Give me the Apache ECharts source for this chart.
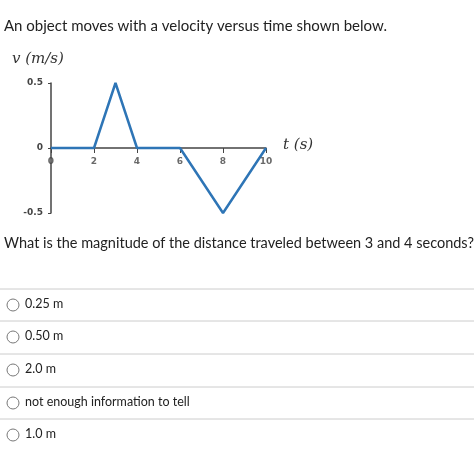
<!DOCTYPE html><html><head><meta charset="utf-8"><script src="https://cdn.jsdelivr.net/npm/echarts@6/dist/echarts.min.js"></script>
<style>html,body{margin:0;background:#fff}#c{width:474px;height:460px}</style></head><body><div id="c"></div><script>
const times=[0,2,3,4,6,8,10];
const velocity=[0,0,0.5,0,0,-0.5,0];
const xTicks=[0,2,4,6,8,10];
const yTicks=[-0.5,0,0.5];
const question='An object moves with a velocity versus time shown below.';
const prompt='What is the magnitude of the distance traveled between 3 and 4 seconds?';
const options=['0.25 m','0.50 m','2.0 m','not enough information to tell','1.0 m'];
const chart=echarts.init(document.getElementById('c'));
const g=[
 {type:'text',left:4,top:19,style:{text:question,font:'15px Lato',fill:'#222'}},
 {type:'text',left:12,top:52,style:{text:'v (m/s)',font:'italic 15px "DejaVu Serif"',fill:'#333'}},
 {type:'text',left:283,top:138,style:{text:'t (s)',font:'italic 15px "DejaVu Serif"',fill:'#333'}},
 {type:'text',left:4,top:236,style:{text:prompt,font:'14.5px Lato',fill:'#222'}}
];
const ys=[305,337,370,403,435];
options.forEach((o,i)=>{
 g.push({type:'line',shape:{x1:0,y1:ys[i]-16,x2:474,y2:ys[i]-16},style:{stroke:'#ccc',lineWidth:1}});
 g.push({type:'circle',shape:{cx:13,cy:ys[i],r:6},style:{fill:'#fff',stroke:'#777',lineWidth:1}});
 g.push({type:'text',left:25,top:ys[i]-8,style:{text:o,font:'12.5px Lato',fill:'#222'}});
});
chart.setOption({
 animation:false,
 grid:{left:51,right:208,top:83,height:130,containLabel:false},
 xAxis:{type:'value',min:0,max:10,interval:2,axisLine:{onZero:true,lineStyle:{color:'#444',width:1.5}},
  axisTick:{show:true,lineStyle:{color:'#444'}},splitLine:{show:false},axisLabel:{show:false}},
 yAxis:{type:'value',min:-0.5,max:0.5,interval:0.5,axisLine:{show:true,onZero:false,lineStyle:{color:'#444',width:1.5}},
  axisTick:{show:true,length:3,lineStyle:{color:'#444'}},splitLine:{show:false},
  axisLabel:{color:'#444',fontSize:9,fontWeight:'bold',fontFamily:'DejaVu Sans',margin:8}},
 series:[{type:'line',data:times.map((t,i)=>[t,velocity[i]]),symbol:'none',lineStyle:{color:'#2e75b6',width:2.5},z:3},
  {type:'scatter',data:xTicks.map(t=>[t,0]),symbolSize:0,silent:true,z:4,
   label:{show:true,position:'bottom',distance:9,formatter:p=>String(p.value[0]),color:'#444',fontSize:9,fontWeight:'bold',fontFamily:'DejaVu Sans'}}],
 graphic:g
});
</script></body></html>
